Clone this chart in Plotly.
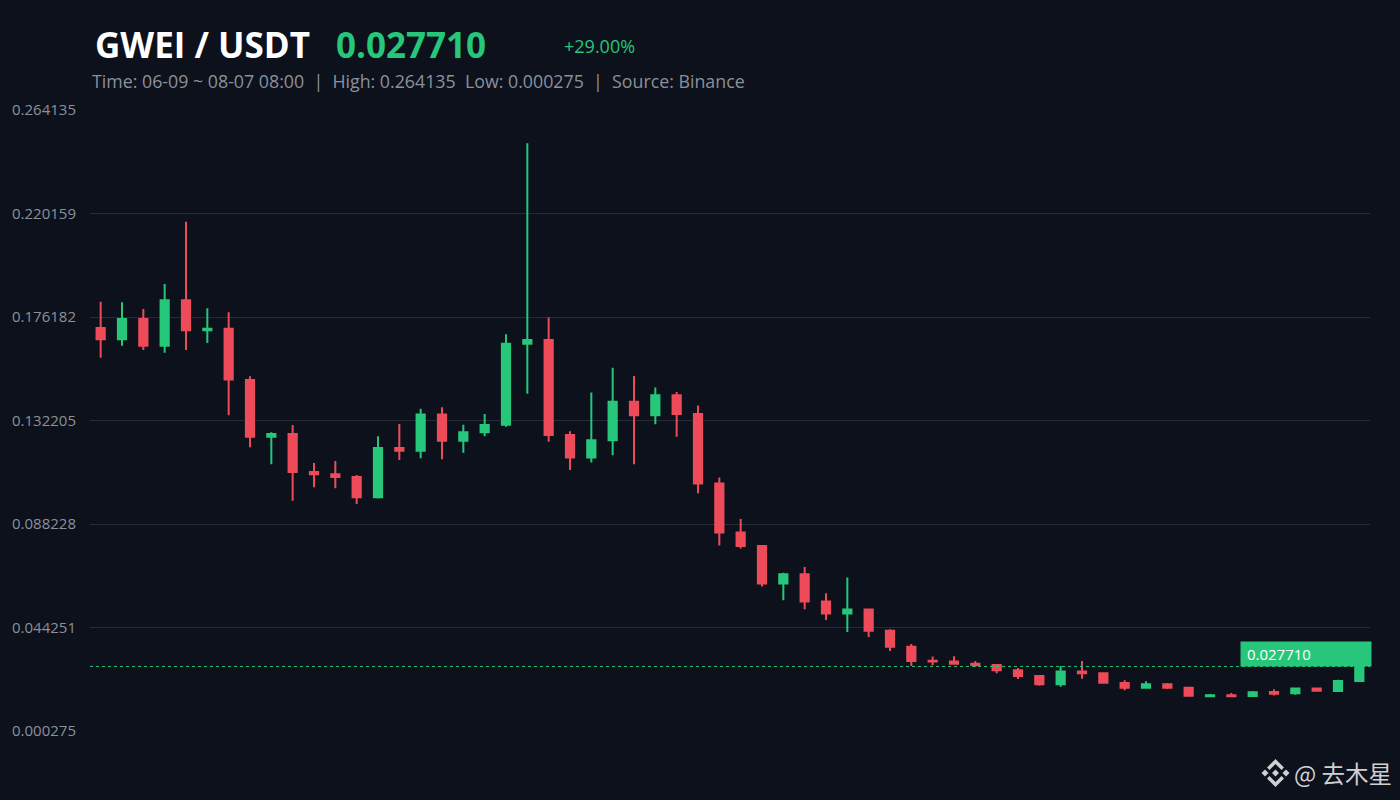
import plotly.graph_objects as go
import pandas as pd

# ---- data ----
dates = [d.strftime("%m-%d") for d in pd.date_range("2025-06-09", "2025-08-07", freq="D")]
opens = [0.1715, 0.1667, 0.1753, 0.1640, 0.1833, 0.1705, 0.1712, 0.1494, 0.1253, 0.1265,
         0.1103, 0.1094, 0.1082, 0.0996, 0.1205, 0.1194, 0.1348, 0.1236, 0.1272, 0.1304,
         0.1648, 0.1664, 0.1260, 0.1165, 0.1238, 0.1402, 0.1344, 0.1429, 0.1350, 0.1054,
         0.0846, 0.0789, 0.0629, 0.0669, 0.0553, 0.0502, 0.0519, 0.0429, 0.0361, 0.0301,
         0.0298, 0.0289, 0.0283, 0.0261, 0.0236, 0.0201, 0.0256, 0.0248, 0.0207, 0.0187,
         0.0201, 0.0186, 0.0150, 0.0155, 0.0151, 0.0168, 0.0163, 0.0183, 0.0173, 0.02148]
highs = [0.1827, 0.1824, 0.1796, 0.1902, 0.2167, 0.1799, 0.1782, 0.1510, 0.1272, 0.1303,
         0.1142, 0.1150, 0.1090, 0.1255, 0.1307, 0.1372, 0.1378, 0.1304, 0.1350, 0.1688,
         0.2500, 0.1760, 0.1276, 0.1441, 0.1546, 0.1511, 0.1462, 0.1443, 0.1386, 0.1080,
         0.0904, 0.0793, 0.0675, 0.0700, 0.0588, 0.0655, 0.0521, 0.0435, 0.0372, 0.0319,
         0.0320, 0.0300, 0.0286, 0.0270, 0.0241, 0.0279, 0.0300, 0.0249, 0.0218, 0.0214,
         0.0207, 0.0187, 0.0160, 0.0164, 0.0173, 0.0180, 0.0187, 0.0186, 0.0220, 0.0285]
lows = [0.1589, 0.1640, 0.1622, 0.1610, 0.1622, 0.1651, 0.1344, 0.1208, 0.1136, 0.0981,
        0.1038, 0.1034, 0.0967, 0.0991, 0.1154, 0.1162, 0.1157, 0.1185, 0.1255, 0.1296,
        0.1436, 0.1232, 0.1112, 0.1144, 0.1174, 0.1136, 0.1306, 0.1253, 0.1013, 0.0791,
        0.0778, 0.0617, 0.0558, 0.0520, 0.0474, 0.0423, 0.0402, 0.0343, 0.0279, 0.0282,
        0.0285, 0.0275, 0.0248, 0.0224, 0.0195, 0.0191, 0.0225, 0.0203, 0.0176, 0.0186,
        0.0181, 0.0150, 0.0146, 0.0147, 0.0149, 0.0154, 0.0157, 0.0170, 0.0171, 0.0214]
closes = [0.1667, 0.1753, 0.1640, 0.1833, 0.1705, 0.1712, 0.1496, 0.1253, 0.1265, 0.1103,
          0.1094, 0.1082, 0.0996, 0.1205, 0.1194, 0.1348, 0.1236, 0.1272, 0.1303, 0.1648,
          0.1664, 0.1260, 0.1165, 0.1238, 0.1402, 0.1344, 0.1429, 0.1350, 0.1054, 0.0846,
          0.0789, 0.0629, 0.0669, 0.0553, 0.0502, 0.0519, 0.0429, 0.0361, 0.0300, 0.0298,
          0.0289, 0.0283, 0.0261, 0.0236, 0.0201, 0.0256, 0.0248, 0.0208, 0.0187, 0.0201,
          0.0187, 0.0153, 0.0155, 0.0150, 0.0167, 0.0161, 0.0183, 0.0174, 0.02148, 0.02771]
y_ticks = [0.000275, 0.044251, 0.088228, 0.132205, 0.176182, 0.220159, 0.264135]
last_price = 0.027710
change_text = "+29.00%"

BG = "#0c111b"
GREEN = "#26c77a"
RED = "#ee4b5a"
GRID = "#272b37"
MUTED = "#8c909b"

W, H = 1400, 800
L, R, T, B = 90, 30, 110, 69
PW, PH = W - L - R, H - T - B


def px(x):
    return (x - L) / PW


def py(y):
    return (H - B - y) / PH


fig = go.Figure()
fig.add_trace(go.Candlestick(
    x=dates, open=opens, high=highs, low=lows, close=closes,
    increasing=dict(line=dict(color=GREEN, width=2), fillcolor=GREEN),
    decreasing=dict(line=dict(color=RED, width=2), fillcolor=RED),
    whiskerwidth=0, showlegend=False, hoverinfo="skip",
))

fig.add_shape(type="line", xref="paper", yref="y", x0=0, x1=1, y0=last_price, y1=last_price,
              line=dict(color=GREEN, width=1, dash="dot"))

fig.add_annotation(xref="paper", yref="y", x=px(1240), y=last_price, xanchor="left", yanchor="bottom",
                   text="\u00a00.027710", showarrow=False, bgcolor=GREEN, width=126, height=20, borderpad=2,
                   align="left", yshift=-1,
                   font=dict(family="Open Sans", size=15, color="#ffffff"))

fig.add_annotation(xref="paper", yref="paper", x=px(93), y=py(45), xanchor="left", yanchor="middle",
                   text="<b>GWEI / USDT</b>", showarrow=False,
                   font=dict(family="Open Sans", size=35, color="#ffffff"))
fig.add_annotation(xref="paper", yref="paper", x=px(334), y=py(45), xanchor="left", yanchor="middle",
                   text="<b>0.027710</b>", showarrow=False,
                   font=dict(family="Open Sans", size=35, color=GREEN))
fig.add_annotation(xref="paper", yref="paper", x=px(562), y=py(46), xanchor="left", yanchor="middle",
                   text=change_text, showarrow=False,
                   font=dict(family="Open Sans", size=18, color=GREEN))
sub = "Time: 06-09 ~ 08-07 08:00\u00a0\u00a0|\u00a0\u00a0High: 0.264135\u00a0\u00a0Low: 0.000275\u00a0\u00a0|\u00a0\u00a0Source: Binance"
fig.add_annotation(xref="paper", yref="paper", x=px(90), y=py(81), xanchor="left", yanchor="middle",
                   text=sub, showarrow=False,
                   font=dict(family="Open Sans", size=17.8, color=MUTED))

# watermark
fig.add_annotation(xref="paper", yref="paper", x=px(1292), y=py(773), xanchor="left", yanchor="middle",
                   text="@ 去木星", showarrow=False,
                   font=dict(family="Noto Sans CJK SC", size=23.5, color="#cfd0d2"))
logo_paths = [
    "M -3.5,0 L 0,3.5 L 3.5,0 L 0,-3.5 Z",
    "M -14,0 L -10.5,3.5 L -7,0 L -10.5,-3.5 Z",
    "M 14,0 L 10.5,3.5 L 7,0 L 10.5,-3.5 Z",
    "M 0,14 L 8.5,5.5 L 6,3 L 0,9 L -6,3 L -8.5,5.5 Z",
    "M 0,-14 L 8.5,-5.5 L 6,-3 L 0,-9 L -6,-3 L -8.5,-5.5 Z",
]
for p in logo_paths:
    fig.add_shape(type="path", path=p, xref="paper", yref="paper", xsizemode="pixel", ysizemode="pixel",
                  xanchor=px(1275.5), yanchor=py(773), fillcolor="#cfd0d2", line=dict(width=0))

fig.update_layout(
    width=W, height=H,
    paper_bgcolor=BG, plot_bgcolor=BG,
    margin=dict(l=L, r=R, t=T, b=B),
    boxgap=0.45,
    xaxis=dict(type="category", range=[-0.5, len(dates) - 0.5], showgrid=False, showticklabels=False,
               zeroline=False, rangeslider=dict(visible=False), fixedrange=True, showline=False),
    yaxis=dict(range=[y_ticks[0], y_ticks[-1]], tickvals=y_ticks, ticktext=[f"{v:.6f}" for v in y_ticks],
               showgrid=True, gridcolor=GRID, gridwidth=1, zeroline=False, showline=False,
               tickfont=dict(family="Open Sans", size=15, color=MUTED), ticks="", ticklabelstandoff=13),
    font=dict(family="Open Sans"),
)

fig.write_html("out.html", config={"displayModeBar": False},
               post_script="document.body.style.margin='0';document.body.style.background='#0c111b';")
